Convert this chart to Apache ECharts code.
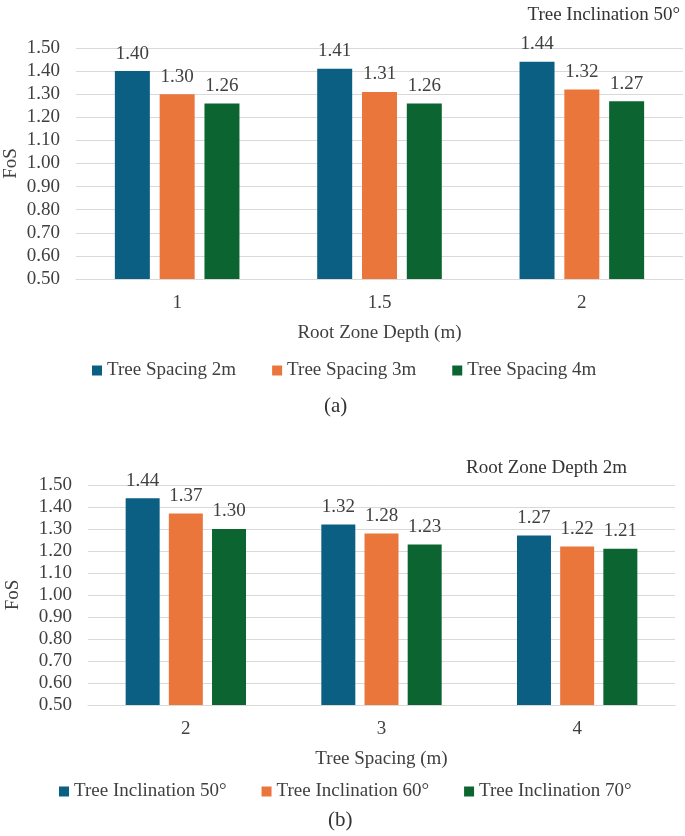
<!DOCTYPE html>
<html>
<head>
<meta charset="utf-8">
<script src="https://cdn.jsdelivr.net/npm/echarts@6/dist/echarts.min.js"></script>
<style>
  html, body { margin: 0; padding: 0; background: #fff; }
  #chart { width: 685px; height: 836px; }
</style>
</head>
<body>
<div id="chart"></div>
<script>
// chart (a): FoS vs root zone depth
var depthCats = ['1', '1.5', '2'];
var spacing2m = [1.40, 1.41, 1.44];
var spacing3m = [1.30, 1.31, 1.32];
var spacing4m = [1.26, 1.26, 1.27];
var spacingNames = ['Tree Spacing 2m', 'Tree Spacing 3m', 'Tree Spacing 4m'];

// chart (b): FoS vs tree spacing
var spacingCats = ['2', '3', '4'];
var incl50 = [1.44, 1.32, 1.27];
var incl60 = [1.37, 1.28, 1.22];
var incl70 = [1.30, 1.23, 1.21];
var inclNames = ['Tree Inclination 50°', 'Tree Inclination 60°', 'Tree Inclination 70°'];

var colors = ['#0b5f83', '#ea763c', '#0c6531'];
var font = 'Liberation Serif';
var txt = '#404040';
var grid = '#d9d9d9';

var myChart = echarts.init(document.getElementById('chart'));

function yAx(idx, gap) {
    return {
        gridIndex: idx,
        type: 'value',
        min: 0.5,
        max: 1.5,
        interval: 0.1,
        name: 'FoS',
        nameLocation: 'middle',
        nameGap: gap,
        nameMoveOverlap: false,
        nameTextStyle: { fontFamily: font, fontSize: 19, color: txt },
        axisLabel: {
            fontFamily: font, fontSize: 19, color: txt, margin: 16,
            formatter: function(v) { return v.toFixed(2); }
        },
        splitLine: { lineStyle: { color: grid, width: 1 } },
        axisLine: { show: false },
        axisTick: { show: false }
    };
}

function xAx(idx, cats, name) {
    return {
        gridIndex: idx,
        type: 'category',
        data: cats,
        name: name,
        nameLocation: 'middle',
        nameGap: 45,
        nameMoveOverlap: false,
        nameTextStyle: { fontFamily: font, fontSize: 19, color: txt },
        axisLabel: { fontFamily: font, fontSize: 19, color: txt, margin: 15 },
        axisLine: { lineStyle: { color: grid, width: 1 } },
        axisTick: { show: false }
    };
}

function bar(name, data, idx, i, width, gap) {
    return {
        name: name,
        type: 'bar',
        xAxisIndex: idx,
        yAxisIndex: idx,
        data: data,
        barWidth: width,
        barGap: gap,
        itemStyle: { color: colors[i] },
        label: {
            show: true,
            position: 'top',
            distance: 8,
            fontFamily: font,
            fontSize: 19,
            color: txt,
            formatter: function(p) { return p.value.toFixed(2); }
        }
    };
}

var legendBase = {
    icon: 'rect',
    itemWidth: 10,
    itemHeight: 10,
    textStyle: { fontFamily: font, fontSize: 19, color: txt }
};

var option = {
    backgroundColor: '#fff',
    animation: false,
    title: [
        { text: 'Tree Inclination 50°', right: 0, top: 1,
          textStyle: { fontFamily: font, fontSize: 19, fontWeight: 'normal', color: '#333' } },
        { text: 'Root Zone Depth 2m', right: 53, top: 454,
          textStyle: { fontFamily: font, fontSize: 19, fontWeight: 'normal', color: '#333' } },
        { text: '(a)', left: 319, top: 391,
          textStyle: { fontFamily: font, fontSize: 21, fontWeight: 'normal', color: '#333' } },
        { text: '(b)', left: 323, top: 805,
          textStyle: { fontFamily: font, fontSize: 21, fontWeight: 'normal', color: '#333' } }
    ],
    legend: [
        Object.assign({}, legendBase, { data: spacingNames, left: 87, top: 356, itemGap: 36 }),
        Object.assign({}, legendBase, { data: inclNames, left: 54, top: 777, itemGap: 35 })
    ],
    grid: [
        { left: 76, right: 2, top: 48, height: 231, outerBoundsMode: 'none' },
        { left: 88, right: 10, top: 485, height: 220, outerBoundsMode: 'none' }
    ],
    xAxis: [
        xAx(0, depthCats, 'Root Zone Depth (m)'),
        xAx(1, spacingCats, 'Tree Spacing (m)')
    ],
    yAxis: [yAx(0, 55), yAx(1, 65)],
    series: [
        bar(spacingNames[0], spacing2m, 0, 0, 35, '28%'),
        bar(spacingNames[1], spacing3m, 0, 1, 35, '28%'),
        bar(spacingNames[2], spacing4m, 0, 2, 35, '28%'),
        bar(inclNames[0], incl50, 1, 0, 34, '27%'),
        bar(inclNames[1], incl60, 1, 1, 34, '27%'),
        bar(inclNames[2], incl70, 1, 2, 34, '27%')
    ]
};

myChart.setOption(option);
</script>
</body>
</html>
